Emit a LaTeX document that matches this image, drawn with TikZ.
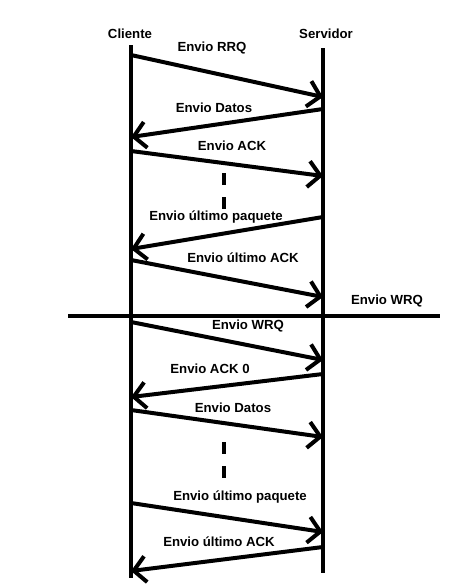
\documentclass[tikz,border=0pt]{standalone}
\usepackage{fontspec}
\setmainfont{Liberation Sans}
\usetikzlibrary{arrows.meta}

\begin{document}
\begin{tikzpicture}[
    x=1pt, y=-1pt,
    thick line/.style={line width=4pt},
    msg/.style={thick line, -{Straight Barb[length=12pt,width=26pt,line width=4pt]}},
    lbl/.style={font=\bfseries\fontsize{13.2}{15}\selectfont, inner sep=0pt},
    gap/.style={thick line, dash pattern=on 12pt off 12pt}
]
\useasboundingbox (0,0) rectangle (474,584);

% lifelines
\node[lbl] (cliente) at (130,34) {Cliente};
\node[lbl] (servidor) at (326,34) {Servidor};
\coordinate (cTop) at (131,45);
\coordinate (cBot) at (131,578);
\coordinate (sTop) at (323,48);
\coordinate (sBot) at (323,573);
\draw[thick line] (cTop) -- (cBot);
\draw[thick line] (sTop) -- (sBot);

% separator
\coordinate (sepL) at (68,316);
\coordinate (sepR) at (440,316);
\draw[thick line] (sepL) -- (sepR);

% read request
\coordinate (c1) at (131,55);  \coordinate (s1) at (323,97);
\coordinate (s2) at (323,109); \coordinate (c2) at (131,137);
\coordinate (c3) at (131,151); \coordinate (s3) at (323,176);
\coordinate (s4) at (323,217); \coordinate (c4) at (131,249);
\coordinate (c5) at (131,260); \coordinate (s5) at (323,297);

\draw[msg] (c1) -- (s1);
\draw[msg] (s2) -- (c2);
\draw[msg] (c3) -- (s3);
\draw[msg] (s4) -- (c4);
\draw[msg] (c5) -- (s5);

\coordinate (g1a) at (224,173); \coordinate (g1b) at (224,210);
\draw[gap] (g1a) -- (g1b);

\node[lbl] (rrq) at (212,48) {Envio RRQ};
\node[lbl] (datos) at (214,108) {Envio Datos};
\node[lbl] (ack) at (232,146) {Envio ACK};
\node[lbl] (ultpaq) at (216,217) {Envio último paquete};
\node[lbl] (ultack) at (243,258) {Envio último ACK};
\node[lbl] (wrqtitle) at (387,301) {Envio WRQ};

% write request
\coordinate (c6) at (131,322);  \coordinate (s6) at (323,360);
\coordinate (s7) at (323,374);  \coordinate (c7) at (131,397);
\coordinate (c8) at (131,410);  \coordinate (s8) at (323,437);
\coordinate (c9) at (131,503);  \coordinate (s9) at (323,532);
\coordinate (s10) at (323,547); \coordinate (c10) at (131,571);

\draw[msg] (c6) -- (s6);
\draw[msg] (s7) -- (c7);
\draw[msg] (c8) -- (s8);
\draw[msg] (c9) -- (s9);
\draw[msg] (s10) -- (c10);

\coordinate (g2a) at (224,442); \coordinate (g2b) at (224,480);
\draw[gap] (g2a) -- (g2b);

\node[lbl] (wrq) at (248,326) {Envio WRQ};
\node[lbl] (ack0) at (210,369) {Envio ACK 0};
\node[lbl] (datos2) at (233,408) {Envio Datos};
\node[lbl] (ultpaq2) at (240,497) {Envio último paquete};
\node[lbl] (ultack2) at (219,542) {Envio último ACK};

\end{tikzpicture}
\end{document}
